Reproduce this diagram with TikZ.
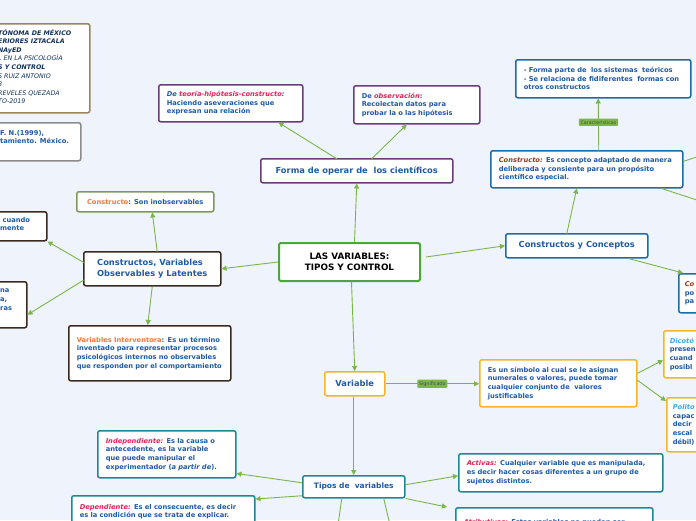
\documentclass[tikz,border=0pt]{standalone}
\usepackage{fontspec}
\setmainfont{DejaVu Sans}
\usetikzlibrary{arrows.meta}
\definecolor{bg}{HTML}{EFF3FB}
\definecolor{txt}{HTML}{1F5AA6}
\definecolor{lnk}{HTML}{7AB648}
\definecolor{cbrown}{HTML}{3B2A20}
\definecolor{cgold}{HTML}{9A8656}
\definecolor{cgray}{HTML}{8C8C8C}
\definecolor{colive}{HTML}{7D9A5A}
\definecolor{cpurple}{HTML}{6A3D7A}
\definecolor{cblue}{HTML}{1B6DA8}
\definecolor{corange}{HTML}{F5B52A}
\definecolor{cteal}{HTML}{1A8A96}
\definecolor{cgreen}{HTML}{4AA83A}
\definecolor{wred}{HTML}{E0245A}
\definecolor{worange}{HTML}{F07A3A}
\definecolor{wbrown}{HTML}{9A3A1A}
\definecolor{wsky}{HTML}{3AA8E0}
\newcommand{\nohyph}{\hyphenpenalty=10000\relax}
\begin{document}
\begin{tikzpicture}[x=1pt,y=-1pt,
    card/.style={draw=#1,line width=1.5pt,rounded corners=2pt,fill=white,
      anchor=north west,inner xsep=8pt,inner ysep=3pt,align=left,text=txt,
      font=\fontsize{6.7}{8.6}\selectfont\bfseries\nohyph},
    big/.style={font=\fontsize{8.3}{10.3}\selectfont\bfseries},
    lbl/.style={fill=lnk,text=black!70,font=\fontsize{4.8}{5}\selectfont,
      inner sep=1.8pt,rounded corners=1pt},
    link/.style={draw=lnk,line width=0.9pt,-{Triangle[length=5pt,width=5pt]}},
    tail/.style={draw=lnk,line width=0.9pt}]
\useasboundingbox (0,0) rectangle (696,520);
\fill[bg] (0,0) rectangle (696,520);
\clip (0,0) rectangle (696,520);
% cards, placed by their top left corner
\node[card=cgold,minimum width=104pt,minimum height=89pt] (info) at (-15,23) {};
\node[anchor=north west,align=left,font=\fontsize{6.3}{8.6}\selectfont\itshape,text=txt!55!black,inner sep=0pt] at (-2,29)
  {\bfseries TÓNOMA DE MÉXICO\\ \bfseries ERIORES IZTACALA\\ \bfseries NAyED\\
   L EN LA PSICOLOGÍA\\ \bfseries S Y CONTROL\\ S RUIZ ANTONIO\\ 8\\
   REVELES QUEZADA\\ TO-2019};
\node[card=cgray,minimum width=95pt,minimum height=38pt] (ref) at (-15,122) {};
\node[anchor=north west,align=left,text=txt,inner sep=0pt,font=\fontsize{6.7}{8.6}\selectfont\bfseries] at (0,130)
  {F. N.(1999),\\ tamiento. México.};
\node[card=colive,minimum width=137pt,minimum height=20pt] (cto) at (76,191)
  {\textcolor{worange}{Constructo}: Son inobservables};
\node[card=cbrown,minimum width=61pt,minimum height=29pt] (obs) at (-15,211) {};
\node[anchor=north west,align=left,text=txt,inner sep=0pt,font=\fontsize{6.7}{8.6}\selectfont\bfseries] at (0,217)
  {\ cuando\\ mente};
\node[card=cbrown,minimum width=41pt,minimum height=46pt] (lat) at (-15,281) {};
\node[anchor=north west,align=left,text=txt,inner sep=0pt,font=\fontsize{6.7}{8.6}\selectfont\bfseries] at (0,289)
  {na\\ a,\\ ras};
\node[card=cbrown,minimum width=137pt,minimum height=34pt,big] (cvo) at (83,251)
  {Constructos, Variables\\ Observables y Latentes};
\node[card=cbrown,text width=146pt,minimum height=55pt] (vint) at (68,325)
  {\textcolor{worange}{Variables Interventora}: Es un término inventado para representar procesos psicológicos internos no observables que responden por el comportamiento};
\node[card=cgreen,line width=2pt,minimum width=141pt,minimum height=38pt,align=center,text=black,
  font=\fontsize{8.8}{10.5}\selectfont\bfseries] (main) at (278,242)
  {LAS VARIABLES:\\ TIPOS Y CONTROL};
\node[card=cpurple,minimum width=192pt,minimum height=24pt,align=center,big] (forma) at (260,158)
  {Forma de operar de\ \ los científicos};
\node[card=cpurple,text width=128pt,minimum height=37pt] (teo) at (158,84)
  {\textcolor{txt}{\itshape De} \textcolor{wred}{\itshape teoría-hipótesis-constructo}\textit{:}\\ Haciendo aseveraciones que expresan una relación};
\node[card=cpurple,text width=110pt,minimum height=38pt] (obsv) at (353,85)
  {De \textcolor{wred}{\itshape observación}:\\ Recolectan datos para probar la o las hipótesis};
\node[card=cblue,minimum width=142pt,minimum height=24pt,align=center,big] (cyc) at (505,233)
  {Constructos y Conceptos};
\node[card=cblue,text width=176pt,minimum height=37pt] (cdef) at (490,150)
  {\textcolor{wbrown}{\itshape Constructo:} Es concepto adaptado de manera deliberada y consiente para un propósito científico especial.};
\node[card=cblue,text width=159pt,minimum height=38pt] (fpar) at (515,59)
  {- Forma parte de\ \ los sistemas\ \ teóricos\\ - Se relaciona de fidiferentes\ \ formas con otros constructos};
\node[card=cblue,text width=30pt,minimum height=39pt,inner xsep=6pt] (con) at (678,273)
  {\textcolor{wbrown}{\itshape Co}\\ po\\ pa};
\node[card=corange,minimum width=60pt,minimum height=24pt,align=center,big] (var) at (324,371)
  {Variable};
\node[card=corange,text width=141pt,minimum height=47pt] (simb) at (479,359)
  {Es un símbolo al cual se le asignan numerales o valores, puede tomar cualquier conjunto de\ \ valores justificables};
\node[card=corange,text width=36pt,minimum height=47pt,inner xsep=6pt] (dic) at (663,330)
  {\textcolor{wsky}{\itshape Dicotó}\\ presen\\ cuand\\ posibl};
\node[card=corange,text width=36pt,minimum height=54pt,inner xsep=6pt] (pol) at (666,397)
  {\textcolor{wsky}{\itshape Polito}\\ capac\\ decir\\ escal\\ débil)};
\node[card=cteal,minimum width=102pt,minimum height=22pt,align=center,
  font=\fontsize{7.5}{9}\selectfont\bfseries] (tipos) at (302,475)
  {Tipos de\ \ variables};
\node[card=cteal,text width=122pt,minimum height=47pt] (indep) at (97,430)
  {\textcolor{wred}{\itshape Independiente:} Es la causa o antecedente, es la variable que puede manipular el experimentador (\textit{a partir de}).};
\node[card=cteal,text width=167pt,minimum height=32pt] (dep) at (71,495)
  {\textcolor{wred}{\itshape Dependiente:} Es el consecuente, es decir es la condición que se trata de explicar.\\[8pt]};
\node[card=cteal,text width=188pt,minimum height=38pt] (act) at (458,453)
  {\textcolor{wred}{\itshape Activas:} Cualquier variable que es manipulada, es decir hacer cosas diferentes a un grupo de sujetos distintos.};
\node[card=cteal,text width=181pt,minimum height=30pt] (atr) at (455,507)
  {\textcolor{wred}{\itshape Atributivas:} Estas variables no pueden ser\\[12pt]};
% free ends
\coordinate (offA) at (700,156);
\coordinate (offB) at (700,201);
\coordinate (offC) at (338,525);
\coordinate (offD) at (390,525);
% links
\draw[link] (main.north) ++(5,0) -- (forma.south);
\draw[link] (forma) ++(-20,-12) -- ([xshift=-25pt]teo.south east);
\draw[link] (forma) ++(15,-12) -- ([xshift=-10pt]obsv.south);
\draw[link] (main.west) -- (cvo.east);
\draw[link] (cvo) ++(5,-17) -- ([xshift=7pt]cto.south);
\draw[link] (cvo) ++(-68,-6) -- (obs.south east);
\draw[link] (cvo) ++(-68,11) -- ([yshift=-10pt]lat.east);
\draw[link] (cvo.south) -- ([xshift=-2pt]vint.north);
\draw[link] (main.east) ++(5,-5) -- (cyc.west);
\draw[link] (cyc) ++(-10,-12) -- ([xshift=-10pt]cdef.south);
\draw[link] (cdef) ++(12,-18) -- node[lbl,pos=0.55]{Caracteristicas} ([xshift=-5pt]fpar.south);
\draw[link] (cyc.south east) ++(-20,0) -- ([xshift=5pt]con.north west);
\draw[tail] (cdef.east) ++(0,-8) -- (offA);
\draw[tail] (cdef.south east) ++(-22,0) -- (offB);
\draw[link] (main.south) ++(2,0) -- (var.north);
\draw[link] (var.east) -- node[lbl]{Significado} (simb.west |- var.east);
\draw[link] (simb.east) ++(0,-10) -- ([yshift=-6pt]dic.west);
\draw[link] (simb.east) ++(0,-3) -- ([yshift=-4pt]pol.north west);
\draw[link] (var.south) ++(-1,0) -- (tipos.north);
\draw[link] (tipos.west) ++(0,-4) -- ([yshift=5pt]indep.south east);
\draw[link] (tipos.west) ++(0,9) -- ([yshift=-4pt]dep.north east);
\draw[link] (tipos.east) ++(0,-2) -- ([yshift=-3pt]act.west);
\draw[link] (tipos.south east) -- ([xshift=-8pt]atr.north west);
\draw[tail] (tipos.south) ++(-12,0) -- (offC);
\draw[tail] (tipos.south) ++(30,0) -- (offD);
\end{tikzpicture}
\end{document}
